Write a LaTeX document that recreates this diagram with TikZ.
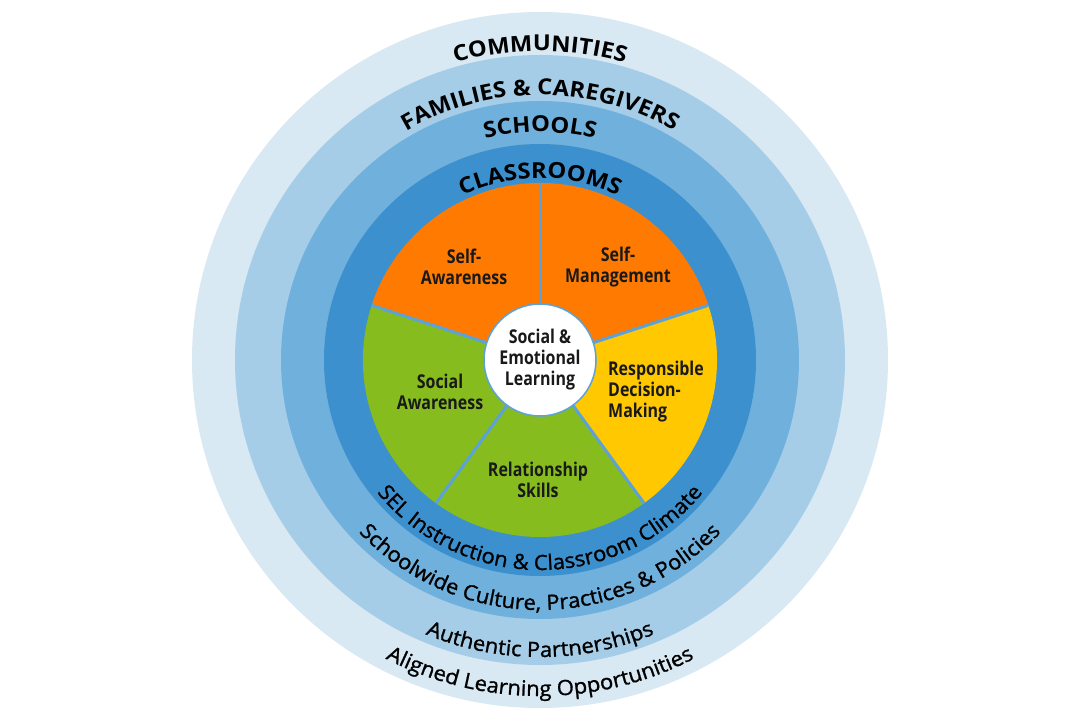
\documentclass[tikz,border=0pt]{standalone}
\usepackage{fontspec}
\setmainfont{Open Sans}
\newfontfamily\capsfont{Open Sans Bold}[FakeStretch=1.08]
\newfontfamily\ringfont{Open Sans}[FakeBold=1.2,FakeStretch=1.05]
\newfontfamily\labfont{Open Sans Bold}[FakeStretch=0.84]
\usetikzlibrary{decorations.text}
\definecolor{cA}{HTML}{D8E9F3}
\definecolor{cB}{HTML}{A6CDE7}
\definecolor{cC}{HTML}{6FB0DD}
\definecolor{cD}{HTML}{3D90CE}
\definecolor{orng}{HTML}{FF7A00}
\definecolor{grn}{HTML}{86BC1E}
\definecolor{yel}{HTML}{FFC800}
\definecolor{divc}{HTML}{5AA2D8}
\begin{document}
\begin{tikzpicture}[x=1pt,y=1pt,
  toptext/.style={decorate,decoration={text along path,text align=center,
     text={|\capsfont\fontsize{22}{22}\selectfont|#1}}},
  bottext/.style={decorate,decoration={text along path,text align=center,
     text={|\ringfont\fontsize{21}{21}\selectfont|#1}}},
  lab/.style={font=\labfont\fontsize{19}{21}\selectfont,align=center,text=black!90}]
\useasboundingbox (-540,-360) rectangle (541,360);
\fill[cA] (0,0) circle (348);
\fill[cB] (0,0) circle (305);
\fill[cC] (0,0) circle (259);
\fill[cD] (0,0) circle (216);
\fill[orng] (0,0) -- (18:177) arc[start angle=18,end angle=162,radius=177] -- cycle;
\fill[grn] (0,0) -- (162:177) arc[start angle=162,end angle=306,radius=177] -- cycle;
\fill[yel] (0,0) -- (306:177) arc[start angle=306,end angle=378,radius=177] -- cycle;
\foreach \a in {18,90,162,234,306} \draw[divc,line width=3] (0,0) -- (\a:177);
\node[circle,fill=white,minimum size=112,inner sep=0,draw=divc,line width=1.5] (c) at (0,0) {};
\node[lab] (lc) at (c) {Social \&\\Emotional\\Learning};
\node[lab] (sa) at (-76,93) {Self-\\Awareness};
\node[lab] (sm) at (78,93) {Self-\\Management};
\node[lab] (so) at (-100,-32) {Social\\Awareness};
\node[lab] (rs) at (-2,-120) {Relationship\\Skills};
\node[lab,align=left] (rd) at (116,-32) {Responsible\\Decision-\\Making};
\path[toptext={COMMUNITIES}] (180:309) arc[start angle=180,end angle=0,radius=309];
\path[toptext={FAMILIES {\&} CAREGIVERS}] (180:265) arc[start angle=180,end angle=0,radius=265];
\path[toptext={SCHOOLS}] (180:228) arc[start angle=180,end angle=0,radius=228];
\path[toptext={CLASSROOMS}] (180:182) arc[start angle=180,end angle=0,radius=182];
\path[bottext={SEL Instruction {\&} Classroom Climate}] (180:210) arc[start angle=180,end angle=360,radius=210];
\path[bottext={Schoolwide Culture, Practices {\&} Policies}] (180:250) arc[start angle=180,end angle=360,radius=250];
\path[bottext={Authentic Partnerships}] (180:297) arc[start angle=180,end angle=360,radius=297];
\path[bottext={Aligned Learning Opportunities}] (180:336) arc[start angle=180,end angle=360,radius=336];
\end{tikzpicture}
\end{document}
